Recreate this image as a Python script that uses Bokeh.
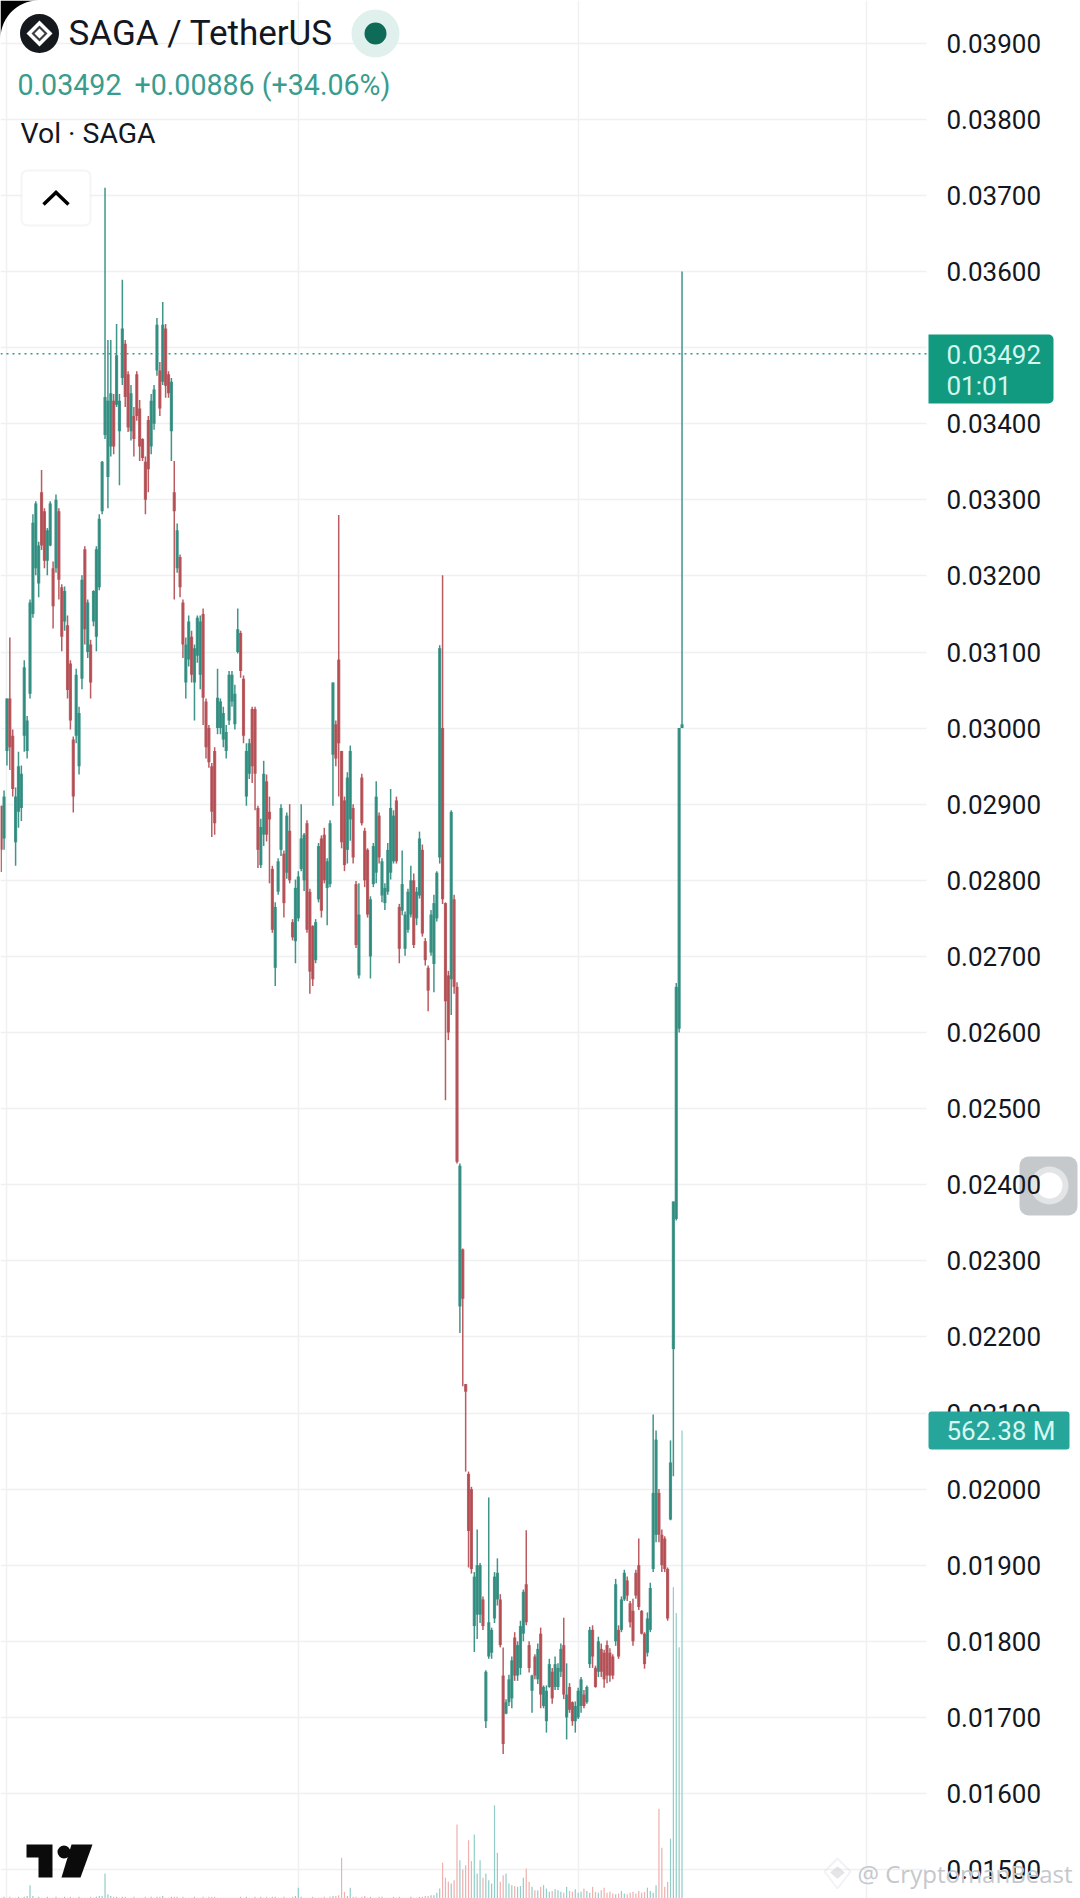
import numpy as np
from bokeh.embed import file_html
from bokeh.resources import INLINE
from bokeh.plotting import figure
from bokeh.models import (BoxAnnotation, ColumnDataSource, FixedTicker, Label,
                          NumeralTickFormatter, PolyAnnotation, Range1d)

# prices in thousandths of a USDT, one value per bar
opens_milli = [
    28.98, 28.55, 29.7, 30.39, 29.9, 28.5, 28.9, 28.95, 29.9, 29.7,
    30.45, 31.5, 32.1, 31.9, 33.1, 32.85, 32.2, 32.4, 32.1, 32.1,
    32.85, 31.85, 31.4, 31.35, 30.85, 29.85, 29.9, 29.5, 30.65, 32.35,
    31.0, 31.1, 31.4, 31.2, 31.85, 32.85, 33.85, 33.3, 33.7, 34.3,
    34.25, 33.9, 34.6, 35.05, 34.65, 33.9, 34.1, 34.65, 34.2, 33.8,
    33.5, 34.05, 33.7, 34.0, 34.7, 34.7, 34.55, 35.25, 34.65, 33.9,
    33.1, 32.1, 32.25, 31.65, 30.6, 30.9, 31.2, 30.6, 30.95, 30.7,
    31.5, 30.35, 30.0, 29.5, 29.7, 30.0, 30.0, 29.85, 29.7, 30.1,
    30.35, 30.05, 31.0, 31.25, 30.65, 29.1, 29.4, 30.25, 30.25, 28.95,
    28.2, 28.6, 29.3, 28.9, 28.15, 26.85, 27.85, 28.4, 28.35, 28.1,
    28.65, 27.45, 27.2, 27.5, 28.15, 28.0, 28.75, 27.85, 27.4, 26.95,
    27.75, 28.55, 28.6, 27.9, 27.95, 29.65, 30.05, 30.9, 29.7, 29.05,
    28.4, 28.8, 28.95, 27.95, 26.75, 29.35, 28.65, 28.4, 27.0, 27.95,
    28.1, 28.85, 27.8, 27.7, 27.85, 28.1, 28.25, 29.05, 27.65, 27.6,
    27.1, 27.35, 27.55, 28.0, 27.5, 27.8, 28.4, 27.2, 26.85, 27.05,
    26.9, 27.5, 28.3, 30.0, 27.7, 26.75, 26.7, 27.75, 26.6, 22.4,
    23.15, 21.38, 20.2, 20.0, 18.2, 18.35, 18.35, 18.55, 16.95, 17.8,
    17.85, 18.3, 18.55, 18.55, 17.55, 17.05, 17.2, 17.25, 18.05, 17.55,
    17.65, 18.1, 18.75, 17.95, 17.35, 17.8, 17.5, 18.1, 17.15, 16.95,
    17.4, 17.6, 17.4, 17.4, 17.6, 17.95, 17.0, 17.4, 17.2, 16.95,
    17.0, 17.15, 17.3, 17.2, 17.7, 18.15, 17.65, 17.6, 17.9, 17.85,
    17.95, 17.85, 17.8, 18.0, 18.15, 18.15, 18.55, 18.8, 18.5, 18.4,
    18.9, 19.0, 18.4, 18.1, 17.85, 18.15, 18.95, 19.4, 19.95, 19.4,
    19.35, 18.95, 19.6, 21.84, 23.55, 26.05, 30.0,
]
highs_milli = [
    28.98, 29.18, 30.39, 31.19, 29.98, 29.22, 29.69, 29.51, 30.89, 30.16,
    31.69, 32.81, 32.98, 32.45, 33.39, 32.89, 32.63, 32.98, 32.19, 33.07,
    32.89, 31.89, 31.86, 31.48, 30.89, 29.89, 30.78, 30.28, 32.01, 32.39,
    31.69, 31.16, 31.81, 32.39, 32.81, 33.51, 37.1, 35.1, 35.1, 34.39,
    35.31, 34.39, 35.89, 35.1, 34.69, 34.51, 34.22, 34.69, 34.31, 33.81,
    33.57, 34.1, 34.39, 34.51, 35.39, 34.81, 35.6, 35.31, 34.69, 34.6,
    33.51, 32.69, 32.28, 31.69, 31.19, 31.48, 31.28, 31.1, 31.48, 31.48,
    31.57, 30.39, 30.04, 29.54, 29.75, 30.78, 30.39, 30.28, 30.04, 30.75,
    30.75, 30.57, 31.57, 31.28, 30.69, 29.8, 29.86, 30.28, 30.28, 28.98,
    28.81, 29.57, 29.39, 29.1, 28.19, 27.71, 28.29, 29.0, 28.39, 28.89,
    29.0, 27.49, 28.01, 28.12, 29.0, 28.62, 28.79, 27.89, 27.41, 27.49,
    28.49, 28.59, 28.69, 28.29, 28.79, 30.6, 30.1, 32.8, 29.7, 29.1,
    29.42, 29.77, 29.0, 27.99, 27.96, 29.4, 28.69, 28.42, 27.79, 28.49,
    29.3, 28.89, 28.29, 27.96, 28.49, 29.2, 28.92, 29.1, 27.69, 28.39,
    27.59, 27.89, 28.19, 28.09, 27.91, 28.64, 28.47, 27.24, 26.88, 27.61,
    27.81, 28.12, 31.09, 32.01, 27.71, 26.81, 28.92, 27.81, 26.66, 24.28,
    23.16, 21.38, 20.23, 20.03, 18.91, 19.47, 19.03, 18.59, 17.62, 19.89,
    18.18, 18.91, 19.09, 18.62, 17.92, 17.24, 17.56, 17.8, 18.12, 18.0,
    18.27, 18.68, 19.46, 18.0, 17.56, 17.83, 17.97, 18.18, 17.42, 17.42,
    17.77, 17.65, 17.8, 17.71, 17.97, 18.31, 17.71, 17.45, 17.21, 17.21,
    17.39, 17.53, 17.36, 17.42, 18.19, 18.21, 17.68, 18.06, 17.97, 17.89,
    18.01, 17.91, 17.83, 18.82, 18.21, 18.59, 18.94, 18.85, 18.53, 18.56,
    18.94, 19.35, 18.41, 18.12, 18.38, 18.77, 20.98, 20.77, 20.0, 19.47,
    19.38, 18.97, 20.64, 23.78, 26.65, 30.0, 36.0,
]
lows_milli = [
    28.11, 28.4, 29.51, 29.45, 29.1, 28.19, 28.69, 28.78, 29.69, 29.6,
    30.39, 31.45, 32.01, 31.72, 32.34, 32.1, 32.01, 32.39, 31.31, 32.04,
    31.69, 31.01, 31.28, 30.39, 29.98, 28.89, 29.8, 29.39, 30.51, 31.1,
    30.92, 30.39, 31.34, 31.01, 31.81, 32.81, 33.8, 32.89, 33.57, 33.6,
    34.22, 33.19, 34.51, 34.22, 33.89, 33.78, 33.57, 34.04, 33.51, 33.51,
    32.81, 33.1, 33.6, 33.92, 34.63, 34.1, 34.51, 34.34, 34.34, 33.51,
    31.69, 32.04, 31.72, 30.92, 30.39, 30.81, 30.6, 30.1, 30.86, 30.51,
    30.04, 29.6, 29.48, 28.57, 28.6, 29.92, 29.92, 29.75, 29.6, 30.04,
    30.28, 29.98, 30.98, 30.66, 29.8, 28.98, 29.33, 29.28, 28.92, 28.16,
    28.16, 28.45, 28.51, 27.96, 27.31, 26.61, 27.81, 28.32, 27.51, 28.02,
    27.96, 27.21, 26.91, 27.46, 28.12, 27.86, 27.31, 26.51, 26.61, 26.91,
    27.71, 27.51, 27.96, 27.41, 27.91, 28.98, 29.5, 29.1, 28.42, 28.12,
    28.22, 28.52, 28.22, 27.11, 26.71, 28.72, 27.91, 27.51, 26.71, 27.91,
    27.96, 28.22, 27.71, 27.61, 27.81, 28.01, 28.22, 28.22, 26.91, 27.54,
    27.01, 27.31, 27.51, 27.11, 27.41, 27.76, 27.26, 26.88, 26.28, 27.01,
    26.53, 27.46, 28.22, 27.69, 25.11, 25.9, 26.23, 26.51, 24.28, 22.05,
    21.35, 20.23, 18.97, 18.89, 17.86, 18.03, 18.24, 18.15, 16.86, 17.77,
    17.77, 18.24, 18.47, 17.92, 16.52, 17.04, 17.15, 17.12, 17.48, 17.48,
    17.56, 18.0, 18.21, 17.59, 17.06, 17.5, 17.44, 17.12, 17.12, 16.8,
    17.39, 17.18, 17.36, 17.36, 17.53, 17.24, 16.71, 17.06, 16.89, 16.8,
    16.98, 17.06, 17.12, 17.18, 17.65, 17.65, 17.39, 17.53, 17.53, 17.39,
    17.45, 17.47, 17.5, 17.94, 17.77, 18.12, 18.53, 18.53, 18.18, 17.94,
    18.56, 18.41, 18.09, 17.64, 17.8, 18.12, 18.91, 19.3, 19.3, 18.91,
    18.91, 18.27, 19.59, 20.17, 23.53, 26.0, 30.0,
]
closes_milli = [
    28.4, 29.1, 30.39, 29.75, 29.2, 29.1, 29.5, 29.4, 30.8, 30.1,
    31.65, 32.7, 32.95, 32.4, 32.4, 32.2, 32.6, 32.95, 31.6, 33.0,
    31.95, 31.2, 31.8, 30.5, 30.1, 29.1, 30.7, 30.2, 31.95, 31.3,
    31.65, 30.6, 31.8, 32.35, 32.75, 33.5, 34.35, 34.3, 34.4, 33.7,
    34.9, 34.3, 35.25, 34.35, 33.95, 34.4, 33.8, 34.1, 33.7, 33.55,
    33.0, 33.4, 34.3, 34.45, 35.3, 34.2, 35.3, 34.5, 34.4, 34.55,
    32.85, 32.6, 31.85, 31.1, 31.1, 31.4, 30.7, 31.05, 31.45, 31.4,
    30.4, 29.75, 29.55, 28.9, 28.75, 30.4, 30.35, 30.2, 29.95, 30.7,
    30.7, 30.45, 31.3, 30.75, 29.9, 29.7, 29.8, 29.5, 29.4, 28.4,
    28.7, 29.4, 28.6, 28.8, 27.35, 27.65, 28.25, 28.95, 27.7, 28.85,
    28.0, 27.25, 27.9, 28.05, 28.55, 28.6, 27.35, 26.8, 26.7, 27.45,
    28.45, 27.6, 28.0, 28.25, 28.75, 30.6, 29.6, 29.8, 28.5, 28.2,
    29.35, 29.7, 28.3, 27.15, 27.55, 28.75, 28.0, 27.55, 27.75, 28.45,
    29.1, 28.3, 28.25, 27.9, 28.4, 28.95, 28.85, 28.25, 27.1, 27.95,
    27.55, 27.85, 28.0, 27.15, 27.85, 28.55, 27.3, 26.95, 26.55, 27.55,
    27.7, 28.1, 31.05, 27.75, 26.41, 26.0, 28.9, 26.6, 24.3, 24.25,
    22.5, 21.28, 19.45, 18.95, 18.85, 19.0, 19.0, 18.2, 17.6, 18.25,
    18.15, 18.85, 18.9, 17.95, 16.65, 17.2, 17.5, 17.75, 17.55, 17.95,
    18.2, 18.65, 18.25, 17.65, 17.55, 17.55, 17.9, 17.3, 17.4, 17.35,
    17.7, 17.25, 17.7, 17.65, 17.9, 17.3, 17.3, 17.1, 16.95, 17.15,
    17.35, 17.5, 17.15, 17.4, 18.15, 17.8, 17.4, 18.0, 17.6, 17.5,
    17.55, 17.55, 17.55, 18.75, 17.8, 18.55, 18.9, 18.6, 18.25, 18.0,
    18.6, 18.45, 18.1, 17.7, 18.3, 18.7, 19.95, 20.65, 19.4, 19.0,
    18.95, 18.3, 20.35, 23.78, 26.6, 30.0, 30.05,
]
# volume in millions of SAGA, one value per bar
volumes_m = [
    1, 2, 1, 2, 1, 1, 2, 1, 2, 3,
    16, 3, 1, 2, 1, 1, 2, 1, 1, 2,
    1, 1, 2, 1, 2, 1, 1, 2, 1, 1,
    1, 2, 1, 2, 3, 3, 30, 5, 3, 2,
    2, 1, 2, 2, 1, 1, 2, 1, 1, 1,
    2, 1, 2, 1, 2, 2, 3, 1, 1, 2,
    2, 2, 1, 2, 1, 1, 1, 2, 1, 1,
    2, 1, 2, 2, 2, 1, 1, 1, 1, 1,
    1, 1, 1, 2, 1, 2, 1, 1, 2, 1,
    2, 1, 2, 1, 2, 2, 1, 1, 2, 1,
    1, 2, 3, 13, 2, 1, 1, 1, 2, 1,
    1, 1, 2, 1, 2, 3, 3, 4, 49, 8,
    3, 13, 2, 2, 1, 2, 3, 1, 2, 1,
    1, 2, 2, 1, 1, 1, 2, 1, 2, 1,
    1, 1, 2, 1, 1, 2, 2, 3, 3, 4,
    4, 7, 12, 43, 25, 20, 18, 22, 89, 46,
    35, 40, 70, 45, 77, 30, 46, 25, 30, 22,
    18, 112, 55, 20, 28, 30, 18, 16, 15, 14,
    15, 25, 36, 20, 14, 10, 10, 14, 16, 12,
    8, 9, 11, 10, 8, 7, 14, 9, 8, 11,
    7, 8, 12, 9, 7, 14, 8, 7, 10, 13,
    7, 8, 6, 5, 6, 9, 6, 5, 7, 8,
    6, 9, 7, 8, 13, 9, 7, 16, 108, 61,
    14, 20, 72, 374, 343, 302, 562.38,
]
price_ticks = [0.015, 0.016, 0.017, 0.018, 0.019, 0.020, 0.021, 0.022, 0.023,
               0.024, 0.025, 0.026, 0.027, 0.028, 0.029, 0.030, 0.031, 0.032,
               0.033, 0.034, 0.035, 0.036, 0.037, 0.038, 0.039]
date_ticks = [2, 103, 200, 300]
last_price = 0.03492

UP, DOWN = "#2b8a7c", "#b24a50"
UP_VOL, DOWN_VOL = "#93cdc8", "#efb0ae"
TEAL_TEXT = "#3a9c8e"
FONT = "Roboto"

assert len(opens_milli) == len(highs_milli) == len(lows_milli) == len(closes_milli) == len(volumes_m)

o = np.array(opens_milli) / 1000
h = np.array(highs_milli) / 1000
l = np.array(lows_milli) / 1000
c = np.array(closes_milli) / 1000
idx = np.arange(len(o))
up = c >= o

# helpers from page pixels to the chart's scale, for furniture only
BAR_PX = 2.885
def x_of(px):
    return (px - 0.67) / BAR_PX
def y_of(py):
    return (36 - (py - 271) / 76.1) / 1000
def v_of(py):
    return (1898 - py) / 0.832

# the frame spans the whole page; the price scale sits over its right-hand part
p = figure(width=1080, height=1898, output_backend="svg", toolbar_location=None,
           x_range=Range1d(x_of(0), x_of(1080)), y_range=Range1d(y_of(1898), y_of(0)),
           y_axis_location="right", min_border_left=0, min_border_right=0,
           min_border_top=0, min_border_bottom=0, outline_line_color=None,
           background_fill_color="white", border_fill_color="white")
p.extra_y_ranges = {"vol": Range1d(v_of(1898), v_of(0))}

p.xaxis.visible = False
p.xgrid.ticker = FixedTicker(ticks=date_ticks)
p.xgrid.grid_line_color = "#eef0f2"
p.xgrid.grid_line_width = 1.5
p.ygrid.grid_line_color = "#eef0f2"
p.ygrid.grid_line_width = 1.5

yax = p.yaxis[0]
yax.ticker = FixedTicker(ticks=price_ticks)
yax.formatter = NumeralTickFormatter(format="0.00000")
yax.major_tick_line_color = None
yax.minor_tick_line_color = None
yax.major_tick_out = 0
yax.axis_line_color = None
yax.major_label_standoff = -134
yax.major_label_text_font = FONT
yax.major_label_text_font_size = "26px"
yax.major_label_text_color = "#131722"


def box(l_, r_, t_, b_, fill, radius=0, line=None, lw=1, alpha=1.0, level="annotation"):
    p.add_layout(BoxAnnotation(left=x_of(l_), right=x_of(r_), top=y_of(t_), bottom=y_of(b_),
                               fill_color=fill, fill_alpha=alpha, line_color=line,
                               line_width=lw, border_radius=radius, level=level))

def label(txt, px, py, size, color, align="left", font=FONT):
    p.add_layout(Label(x=x_of(px), y=y_of(py), text=txt, text_font=font,
                       text_font_size=f"{size}px", text_color=color, text_align=align,
                       text_baseline="middle", level="annotation"))

def poly(xs, ys, fill, alpha=1.0, line=None, lw=1):
    p.add_layout(PolyAnnotation(xs=[x_of(a) for a in xs], ys=[y_of(b) for b in ys],
                                fill_color=fill, fill_alpha=alpha, line_color=line,
                                line_width=lw, level="annotation"))

# price-scale strip hides the horizontal grid right of the plotting area
box(926, 1080, 0, 1898, "white", level="underlay")
# floating home button (below the axis labels)
box(1019, 1077, 1156, 1215, "#c6c9cc", radius=9, level="underlay")
box(1030, 1068, 1166, 1204, "#e2e4e5", radius=19, level="underlay")
box(1036, 1062, 1172, 1198, "white", radius=13, level="underlay")

# volume
p.vbar(x=idx, top=np.array(volumes_m), bottom=0, width=0.42, y_range_name="vol",
       color=[UP_VOL if u else DOWN_VOL for u in up], line_color=None)

# candles
cols = [UP if u else DOWN for u in up]
src = ColumnDataSource(dict(x=idx, o=o, h=h, l=l, c=c,
                            top=np.maximum(o, c), bot=np.minimum(o, c), col=cols))
p.segment(x0="x", y0="l", x1="x", y1="h", source=src, line_color="col", line_width=1.5, line_alpha=0.9)
p.vbar(x="x", top="top", bottom="bot", width=1.1, source=src, fill_color="col",
       fill_alpha=0.85, line_color=None)

# last price line
p.line([x_of(0), x_of(926)], [last_price, last_price], line_color="#2f9c8c",
       line_width=1.5, line_dash="2 4")

# screen corner of the phone
ang = np.linspace(np.pi, 1.5 * np.pi, 16)
poly([0] + list(38 + 38 * np.cos(ang)), [0] + list(38 + 38 * np.sin(ang)), "black")

# header
box(19.5, 58.5, 13.5, 52.5, "#15181c", radius=20)
poly([39, 52, 39, 26], [20, 33, 46, 33], "white")
poly([39, 47, 39, 31], [25, 33, 41, 33], "#3a3d42")
poly([39, 44, 39, 34], [28, 33, 38, 33], "white")
label("SAGA / TetherUS", 68, 33, 35, "#131722")
box(351, 399, 9, 57, "#dff0ed", radius=24)
box(364, 386, 22, 44, "#0e6b58", radius=11)
label("0.03492", 17, 84, 28.6, TEAL_TEXT)
label("+0.00886 (+34.06%)", 134, 84, 28.6, TEAL_TEXT)
label("Vol \u00b7 SAGA", 20, 133, 28.4, "#131722")

# collapse button
box(21, 90, 170, 225, "white", radius=6, line="#dcdee0", lw=2)
p.line([x_of(43), x_of(55.5), x_of(68)], [y_of(204), y_of(192), y_of(204)],
       line_color="black", line_width=3.5, line_join="miter", level="overlay")

# tradingview mark
poly([26, 52, 52, 38, 38, 26], [1844, 1844, 1877, 1877, 1857, 1857], "#0b0b0b")
box(57, 70, 1845, 1858, "#0b0b0b", radius=7)
poly([71, 92, 80, 61], [1844, 1844, 1877, 1877], "#0b0b0b")

# price tag
box(928, 1053, 334, 403, "#129a80", radius=(0, 5, 5, 0))
label("0.03492", 946, 354, 26, "#d2f7ee")
label("01:01", 946, 385, 26, "#d2f7ee")

# volume tag
box(928, 1069, 1411, 1449, "#26a69a", radius=3)
label("562.38 M", 946, 1430, 26, "#d8f7f1")

# watermark
poly([837, 850, 837, 824], [1858, 1871, 1888, 1871], "#ffffff", alpha=0.0, line="#d0d3d6", lw=2)
poly([837, 844, 837, 830], [1866, 1872, 1878, 1872], "#d0d3d6", alpha=0.6, line="#d0d3d6", lw=1)
label("@ CryptomanBeast", 857, 1873, 24, "#c4c8cc", font="Open Sans")

open("out.html", "w").write(file_html(p, INLINE))
